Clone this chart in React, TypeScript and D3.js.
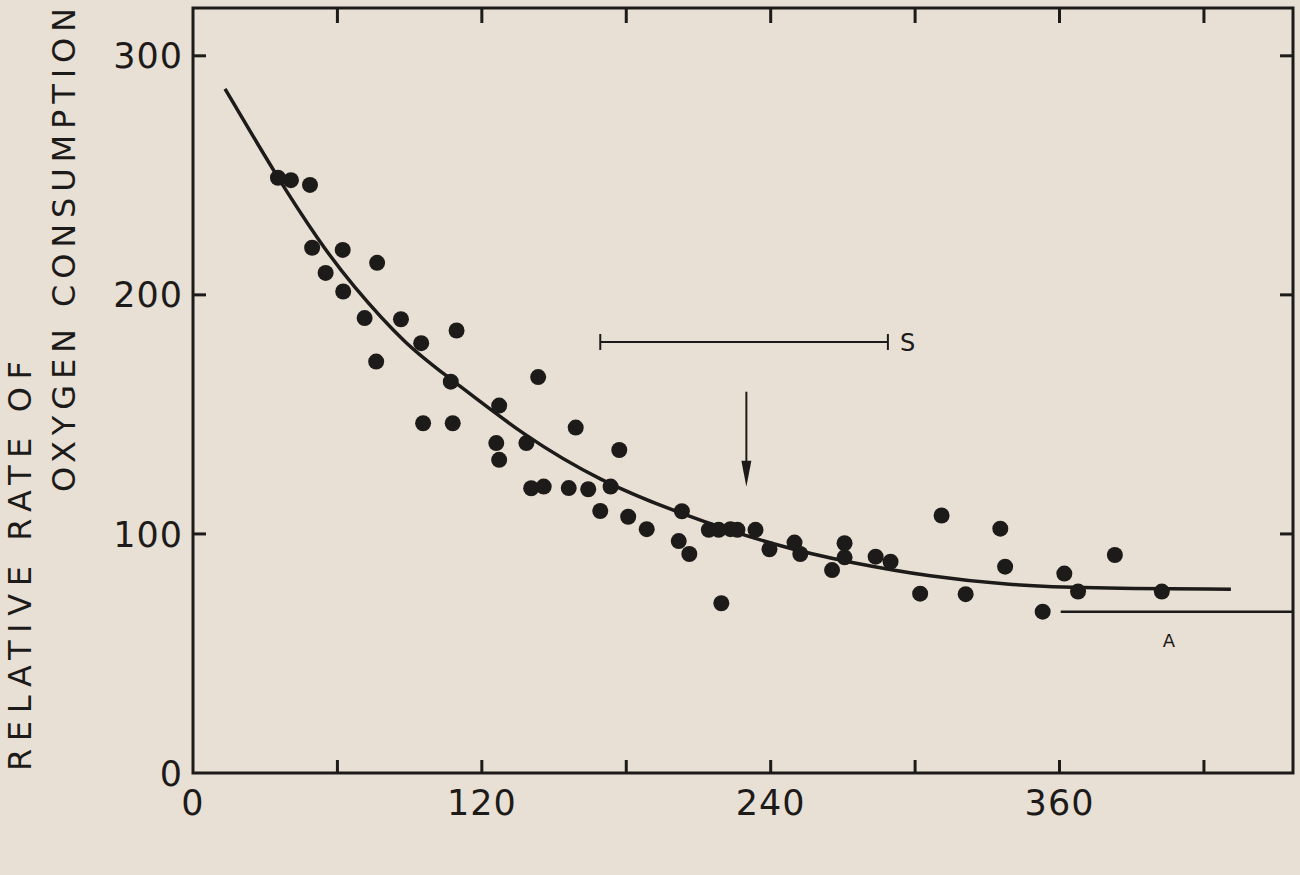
import React, { useEffect, useRef } from 'react';
import * as d3 from 'd3';

// observed points (time, relative rate)
const timeValues = [
  35.3, 40.7, 48.6, 49.5, 62.2, 76.5, 55.1, 62.4, 71.3, 86.4,
  109.5, 94.8, 76.1, 107.1, 143.4, 95.6, 107.9, 127.2, 126.0, 127.2,
  138.5, 159.0, 177.1, 140.5, 145.7, 156.1, 164.2, 173.5, 169.2, 180.8,
  188.5, 203.1, 201.8, 206.2, 214.3, 218.4, 223.3, 226.2, 233.7, 239.5,
  219.5, 249.9, 252.3, 265.5, 270.7, 270.7, 283.6, 289.8, 302.1, 321.0,
  311.0, 335.4, 337.4, 353.0, 362.0, 367.7, 383.0, 402.5,
];
const rateValues = [
  249, 248, 246, 219.7, 218.8, 213.4, 209.2, 201.4, 190.3, 189.8,
  185.1, 179.8, 172.1, 163.7, 165.6, 146.3, 146.3, 153.7, 138, 131,
  138, 144.5, 135.1, 119.1, 119.8, 119.2, 118.7, 119.8, 109.6, 107.2,
  102, 109.5, 97, 91.6, 101.7, 101.7, 102, 101.7, 101.7, 93.6,
  71, 96.4, 91.6, 84.9, 96.1, 90.2, 90.5, 88.4, 75, 74.8,
  107.7, 102.2, 86.3, 67.5, 83.4, 75.9, 91.2, 75.9,
];

// fitted curve
const curveTime = [13.3, 35.2, 52.8, 65.3, 88.9, 106, 137.8, 169.6, 201.5, 242.8, 274.4, 306.3, 338, 370, 431.2];
const curveRate = [286.2, 248.8, 221.8, 205, 178.4, 165.8, 140.7, 121.9, 108.8, 94.7, 87.7, 82.1, 78.7, 77.3, 76.9];

const xTicks = [60, 120, 180, 240, 300, 360, 420];
const xTickLabels = [0, 120, 240, 360];
const yTicks = [100, 200, 300];
const yTickLabels = [0, 100, 200, 300];

// annotations
const sSpan = [169.2, 288.7];
const sLevel = 180.3;
const arrowTime = 229.9;
const arrowSpan = [159.5, 119.7];
const aSpan = [360.5, 457];
const aLevel = 67.5;

const INK = '#1d1b19';
const PAPER = '#e8e0d4';
const FONT = '"DejaVu Sans", sans-serif';

const App: React.FC = () => {
  const svgRef = useRef<SVGSVGElement>(null);

  useEffect(() => {
    if (!svgRef.current) return;
    const width = 1300;
    const height = 875;
    d3.select(svgRef.current).selectAll('*').remove();

    const root = d3.select(svgRef.current)
      .attr('width', width)
      .attr('height', height);

    root.append('rect')
      .attr('width', width)
      .attr('height', height)
      .attr('fill', PAPER);

    const margin = { top: 8, left: 193 };
    const innerWidth = 1100;
    const innerHeight = 765;

    const x = d3.scaleLinear().domain([0, 457]).range([0, innerWidth]);
    const y = d3.scaleLinear().domain([0, 320]).range([innerHeight, 0]);

    const svg = root.append('g')
      .attr('transform', `translate(${margin.left},${margin.top})`);

    // frame
    svg.append('rect')
      .attr('width', innerWidth)
      .attr('height', innerHeight)
      .attr('fill', 'none')
      .attr('stroke', INK)
      .attr('stroke-width', 3);

    // inward ticks
    const tickLen = 13;
    xTicks.forEach(t => {
      svg.append('line')
        .attr('x1', x(t)).attr('x2', x(t))
        .attr('y1', innerHeight).attr('y2', innerHeight - tickLen)
        .attr('stroke', INK).attr('stroke-width', 3);
      svg.append('line')
        .attr('x1', x(t)).attr('x2', x(t))
        .attr('y1', 0).attr('y2', tickLen + 2)
        .attr('stroke', INK).attr('stroke-width', 3);
    });
    yTicks.forEach(t => {
      svg.append('line')
        .attr('x1', 0).attr('x2', tickLen)
        .attr('y1', y(t)).attr('y2', y(t))
        .attr('stroke', INK).attr('stroke-width', 3);
      svg.append('line')
        .attr('x1', innerWidth).attr('x2', innerWidth - tickLen)
        .attr('y1', y(t)).attr('y2', y(t))
        .attr('stroke', INK).attr('stroke-width', 3);
    });

    // tick labels
    svg.selectAll('.y-label')
      .data(yTickLabels)
      .enter()
      .append('text')
      .attr('x', -10)
      .attr('y', d => y(d))
      .attr('dy', '0.36em')
      .attr('text-anchor', 'end')
      .attr('font-family', FONT)
      .attr('font-size', 35)
      .attr('letter-spacing', 1)
      .attr('fill', INK)
      .text(d => d);

    svg.selectAll('.x-label')
      .data(xTickLabels)
      .enter()
      .append('text')
      .attr('x', d => x(d))
      .attr('y', innerHeight + 42)
      .attr('text-anchor', 'middle')
      .attr('font-family', FONT)
      .attr('font-size', 35)
      .attr('letter-spacing', 1)
      .attr('fill', INK)
      .text(d => d);

    // axis title, two rotated lines
    const titles = [
      { text: 'RELATIVE RATE OF', cx: 19, cy: 566, len: 410 },
      { text: 'OXYGEN CONSUMPTION', cx: 63, cy: 250, len: 484 },
    ];
    titles.forEach(t => {
      root.append('text')
        .attr('transform', `translate(${t.cx},${t.cy}) rotate(-90)`)
        .attr('text-anchor', 'middle')
        .attr('dy', '0.36em')
        .attr('font-family', FONT)
        .attr('font-size', 32)
        .attr('textLength', t.len)
        .attr('lengthAdjust', 'spacing')
        .attr('fill', INK)
        .text(t.text);
    });

    // fitted curve
    const curveData = curveTime.map((t, i) => [t, curveRate[i]] as [number, number]);
    const line = d3.line<[number, number]>()
      .x(d => x(d[0]))
      .y(d => y(d[1]))
      .curve(d3.curveBasis);
    svg.append('path')
      .datum(curveData)
      .attr('d', line)
      .attr('fill', 'none')
      .attr('stroke', INK)
      .attr('stroke-width', 3.5);

    // points
    const points = timeValues.map((t, i) => ({ t, r: rateValues[i] }));
    svg.selectAll('.dot')
      .data(points)
      .enter()
      .append('circle')
      .attr('cx', d => x(d.t))
      .attr('cy', d => y(d.r))
      .attr('r', 8)
      .attr('fill', INK);

    // S bar
    svg.append('line')
      .attr('x1', x(sSpan[0])).attr('x2', x(sSpan[1]))
      .attr('y1', y(sLevel)).attr('y2', y(sLevel))
      .attr('stroke', INK).attr('stroke-width', 2);
    sSpan.forEach(s => {
      svg.append('line')
        .attr('x1', x(s)).attr('x2', x(s))
        .attr('y1', y(sLevel) - 8).attr('y2', y(sLevel) + 8)
        .attr('stroke', INK).attr('stroke-width', 2);
    });
    svg.append('text')
      .attr('x', x(sSpan[1]) + 12)
      .attr('y', y(sLevel))
      .attr('dy', '0.36em')
      .attr('font-family', FONT)
      .attr('font-size', 24)
      .attr('fill', INK)
      .text('S');

    // arrow
    const ax = x(arrowTime);
    const ay0 = y(arrowSpan[0]);
    const ay1 = y(arrowSpan[1]);
    svg.append('line')
      .attr('x1', ax).attr('x2', ax)
      .attr('y1', ay0).attr('y2', ay1 - 20)
      .attr('stroke', INK).attr('stroke-width', 2);
    svg.append('path')
      .attr('d', `M${ax - 5},${ay1 - 26} L${ax + 5},${ay1 - 26} L${ax},${ay1} Z`)
      .attr('fill', INK);

    // A line
    svg.append('line')
      .attr('x1', x(aSpan[0])).attr('x2', x(aSpan[1]))
      .attr('y1', y(aLevel)).attr('y2', y(aLevel))
      .attr('stroke', INK).attr('stroke-width', 2.5);
    svg.append('text')
      .attr('x', x(405.4))
      .attr('y', y(aLevel) + 29)
      .attr('dy', '0.36em')
      .attr('text-anchor', 'middle')
      .attr('font-family', FONT)
      .attr('font-size', 18)
      .attr('fill', INK)
      .text('A');
  }, []);

  return (
    <div style={{ position: 'absolute', left: 0, top: 0, width: 1300, height: 875 }}>
      <svg ref={svgRef} style={{ display: 'block' }}></svg>
    </div>
  );
};

export default App;
